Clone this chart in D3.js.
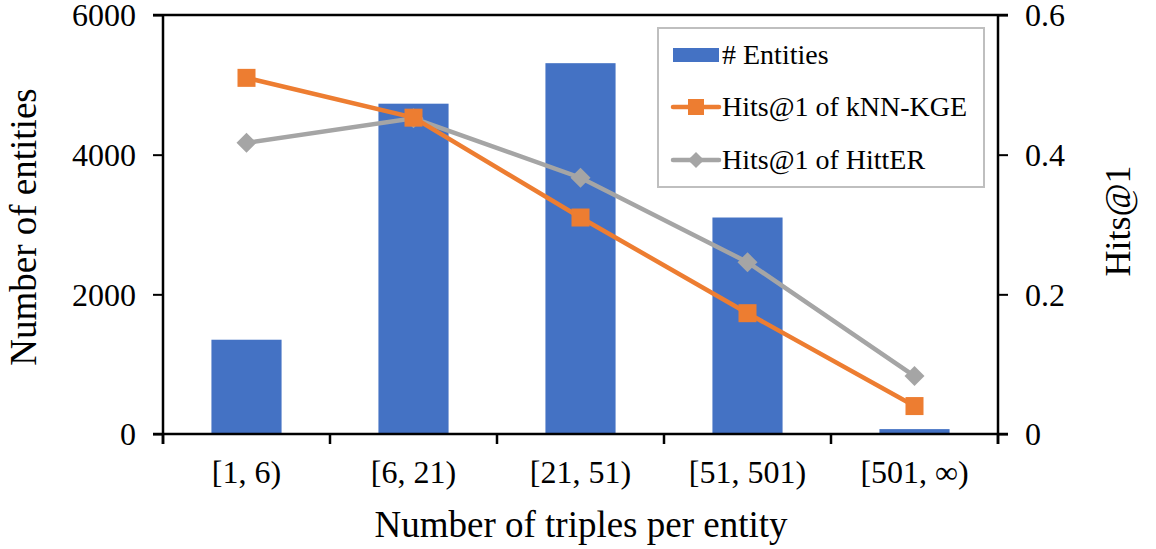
<!DOCTYPE html>
<html>
<head>
<meta charset="utf-8">
<script src="https://cdn.jsdelivr.net/npm/d3@7"></script>
</head>
<body style="margin:0">
<svg id="chart" width="1156" height="549"></svg>
<script>
  // data
  var categories = ['[1, 6)', '[6, 21)', '[21, 51)', '[51, 501)', '[501, \u221E)']
  var entityCounts = [1350, 4730, 5310, 3100, 70]
  var knnHits = [0.510, 0.453, 0.310, 0.173, 0.040]
  var hitterHits = [0.417, 0.452, 0.367, 0.246, 0.083]
  var leftTicks = [0, 2000, 4000, 6000]
  var rightTicks = [0, 0.2, 0.4, 0.6]

  var blue = '#4472C4'
  var orange = '#ED7D31'
  var gray = '#A5A5A5'

  var margin = { top: 15, right: 158, bottom: 115, left: 163 }
  var width = 1156 - margin.left - margin.right
  var height = 549 - margin.top - margin.bottom

  var svg = d3.select('#chart')
  var g = svg.append('g').attr('transform', 'translate(' + margin.left + ',' + margin.top + ')')

  function serifText (sel, size) {
    sel.style('font-family', "'Liberation Serif'").style('font-size', size + 'px')
  }

  var x = d3.scaleBand().domain(categories).range([0, width]).padding(0)
  var yLeft = d3.scaleLinear().domain([0, 6000]).range([height, 0])
  var yRight = d3.scaleLinear().domain([0, 0.6]).range([height, 0])

  // bars
  var barW = x.bandwidth() * 0.42
  g.selectAll('rect.bar')
    .data(entityCounts)
    .enter().append('rect')
    .attr('class', 'bar')
    .attr('x', function (d, i) { return x(categories[i]) + (x.bandwidth() - barW) / 2 })
    .attr('y', function (d) { return yLeft(d) })
    .attr('width', barW)
    .attr('height', function (d) { return height - yLeft(d) })
    .attr('fill', blue)

  // axes
  var leftAxis = d3.axisLeft(yLeft).tickValues(leftTicks).tickSize(10).tickPadding(17)
    .tickFormat(d3.format('d'))
  var rightAxis = d3.axisRight(yRight).tickValues(rightTicks).tickSize(10).tickPadding(17)
    .tickFormat(function (d) { return d === 0 ? '0' : d3.format('.1f')(d) })

  function styleAxis (sel) {
    sel.attr('font-family', null).attr('font-size', null)
    sel.select('.domain').remove()
    sel.selectAll('line').attr('stroke', '#000').attr('stroke-width', 2)
    sel.selectAll('text').call(serifText, 32).attr('fill', '#000').attr('dy', '0.34em')
  }

  g.append('g').call(leftAxis).call(styleAxis)
  g.append('g').attr('transform', 'translate(' + width + ',0)').call(rightAxis).call(styleAxis)

  // frame lines
  g.append('line').attr('x1', 0).attr('x2', 0).attr('y1', 0).attr('y2', height + 10)
    .attr('stroke', '#000').attr('stroke-width', 2.5)
  g.append('line').attr('x1', width).attr('x2', width).attr('y1', 0).attr('y2', height + 10)
    .attr('stroke', '#000').attr('stroke-width', 2.5)
  g.append('line').attr('x1', -10).attr('x2', width + 10).attr('y1', 0).attr('y2', 0)
    .attr('stroke', '#000').attr('stroke-width', 2.5)
  g.append('line').attr('x1', -10).attr('x2', width + 10).attr('y1', height).attr('y2', height)
    .attr('stroke', '#000').attr('stroke-width', 2.5)

  // category boundary ticks
  var boundaries = categories.map(function (c) { return x(c) }).concat([width])
  g.selectAll('line.xtick')
    .data(boundaries)
    .enter().append('line')
    .attr('class', 'xtick')
    .attr('x1', function (d) { return d }).attr('x2', function (d) { return d })
    .attr('y1', height).attr('y2', height + 10)
    .attr('stroke', '#000').attr('stroke-width', 2.5)

  g.selectAll('text.xlab')
    .data(categories)
    .enter().append('text')
    .attr('class', 'xlab')
    .attr('x', function (d) { return x(d) + x.bandwidth() / 2 })
    .attr('y', 483 - margin.top)
    .attr('text-anchor', 'middle')
    .call(serifText, 32)
    .text(function (d) { return d })

  // lines
  var cx = function (d, i) { return x(categories[i]) + x.bandwidth() / 2 }
  var lineGen = d3.line().x(cx).y(function (d) { return yRight(d) })

  g.append('path').datum(hitterHits)
    .attr('d', lineGen).attr('fill', 'none').attr('stroke', gray).attr('stroke-width', 4.5)
  g.selectAll('path.diamond')
    .data(hitterHits)
    .enter().append('path')
    .attr('class', 'diamond')
    .attr('d', d3.symbol().type(d3.symbolSquare).size(200))
    .attr('transform', function (d, i) { return 'translate(' + cx(d, i) + ',' + yRight(d) + ') rotate(45)' })
    .attr('fill', gray)

  g.append('path').datum(knnHits)
    .attr('d', lineGen).attr('fill', 'none').attr('stroke', orange).attr('stroke-width', 4.5)
  g.selectAll('rect.sq')
    .data(knnHits)
    .enter().append('rect')
    .attr('class', 'sq')
    .attr('x', function (d, i) { return cx(d, i) - 9 })
    .attr('y', function (d) { return yRight(d) - 9 })
    .attr('width', 18).attr('height', 18)
    .attr('fill', orange)

  // axis titles
  svg.append('text')
    .attr('transform', 'translate(36,227) rotate(-90)')
    .attr('text-anchor', 'middle')
    .call(serifText, 37)
    .text('Number of entities')
  svg.append('text')
    .attr('transform', 'translate(1130,221) rotate(-90)')
    .attr('text-anchor', 'middle')
    .call(serifText, 36)
    .text('Hits@1')
  svg.append('text')
    .attr('x', 581)
    .attr('y', 537)
    .attr('text-anchor', 'middle')
    .call(serifText, 37)
    .text('Number of triples per entity')

  // legend
  var legend = svg.append('g').attr('transform', 'translate(658,28)')
  legend.append('rect').attr('width', 326).attr('height', 159)
    .attr('fill', '#fff').attr('stroke', '#BFBFBF').attr('stroke-width', 2)
  var legendItems = [
    { label: '# Entities', type: 'bar', color: blue },
    { label: 'Hits@1 of kNN-KGE', type: 'square', color: orange },
    { label: 'Hits@1 of HittER', type: 'diamond', color: gray }
  ]
  var rowY = [27, 79, 132]
  legendItems.forEach(function (item, i) {
    var row = legend.append('g').attr('transform', 'translate(0,' + rowY[i] + ')')
    if (item.type === 'bar') {
      row.append('rect').attr('x', 15).attr('y', -7).attr('width', 46).attr('height', 14).attr('fill', item.color)
    } else {
      row.append('line').attr('x1', 15).attr('x2', 61).attr('y1', 0).attr('y2', 0)
        .attr('stroke', item.color).attr('stroke-width', 4.5).attr('stroke-linecap', 'round')
      if (item.type === 'square') {
        row.append('rect').attr('x', 30).attr('y', -8).attr('width', 16).attr('height', 16).attr('fill', item.color)
      } else {
        row.append('path').attr('d', d3.symbol().type(d3.symbolSquare).size(130))
          .attr('transform', 'translate(38,0) rotate(45)').attr('fill', item.color)
      }
    }
    row.append('text').attr('x', 64).attr('y', 9)
      .call(serifText, 28)
      .text(item.label)
  })
</script>
</body>
</html>
